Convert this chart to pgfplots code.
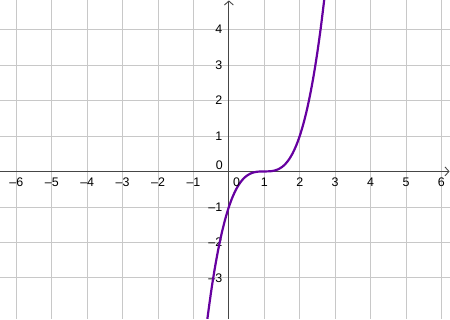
\documentclass[border=0pt]{standalone}
\usepackage{pgfplots}
\pgfplotsset{compat=1.18}
\usepackage{fontspec}
\setmainfont{Liberation Sans}
\usetikzlibrary{arrows.meta}
\definecolor{curve}{RGB}{102,0,160}
\definecolor{gridc}{RGB}{200,200,200}
\definecolor{axc}{RGB}{70,70,70}
\begin{document}
\begin{tikzpicture}
\begin{axis}[
  width=450bp, height=319bp, scale only axis,
  xmin=-6.45, xmax=6.23, ymin=-4.155, ymax=4.82,
  axis lines=middle,
  axis line style={draw=axc, line width=0.9bp, -{Straight Barb[length=4bp,width=9bp]}},
  grid=major,
  major grid style={draw=gridc, line width=0.8bp},
  major tick length=0pt,
  xtick={-6,-5,-4,-3,-2,-1,1,2,3,4,5,6},
  xticklabels={--6,--5,--4,--3,--2,--1,1,2,3,4,5,6},
  ytick={-3,-2,-1,1,2,3,4},
  yticklabels={--3,--2,--1,1,2,3,4},
  extra x ticks={0}, extra x tick labels={},
  extra y ticks={0}, extra y tick labels={},
  extra tick style={grid=none},
  xticklabel style={font=\fontsize{12.5}{14}\selectfont, anchor=north, inner sep=0pt, yshift=-6bp},
  yticklabel style={font=\fontsize{12.5}{14}\selectfont, anchor=east, inner sep=0pt, xshift=-6.5bp},
  clip=true,
]
\addplot[curve, line width=2.2bp, smooth] coordinates {
(-0.70,-4.91) (-0.62,-4.25) (-0.5,-3.375) (-0.4,-2.744) (-0.3,-2.197) (-0.2,-1.728)
(-0.1,-1.331) (0,-1) (0.1,-0.729) (0.2,-0.512) (0.3,-0.343) (0.4,-0.216)
(0.5,-0.125) (0.6,-0.064) (0.7,-0.027) (0.8,-0.008) (0.9,-0.001) (1.0,0)
(1.1,0.001) (1.2,0.008) (1.3,0.027) (1.4,0.064) (1.5,0.125) (1.6,0.216)
(1.7,0.343) (1.8,0.512) (1.9,0.729) (2.0,1.0) (2.1,1.331) (2.2,1.728)
(2.3,2.197) (2.4,2.744) (2.5,3.375) (2.6,4.096) (2.7,4.913) (2.75,5.36)
};
\node[font=\fontsize{12.5}{14}\selectfont, anchor=north west, inner sep=0pt] at (axis cs:0,0) [xshift=4bp, yshift=-6bp] {0};
\node[font=\fontsize{12.5}{14}\selectfont, anchor=south east, inner sep=0pt] at (axis cs:0,0) [xshift=-6bp, yshift=2bp] {0};
\end{axis}
\end{tikzpicture}
\end{document}
